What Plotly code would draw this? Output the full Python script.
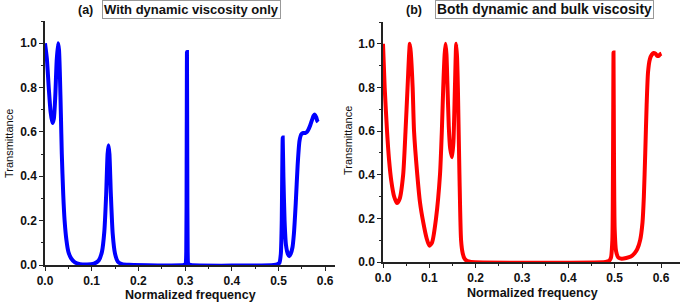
import plotly.graph_objects as go

# ---- data ----
blue_x = [0.000, 0.004, 0.008, 0.012, 0.016, 0.019, 0.022, 0.025, 0.028, 0.030,
          0.032, 0.034, 0.036, 0.039, 0.042, 0.046, 0.050, 0.056, 0.064, 0.075,
          0.090, 0.105, 0.115, 0.122, 0.127, 0.131, 0.134, 0.136, 0.138, 0.141,
          0.145, 0.150, 0.156, 0.165, 0.180, 0.298, 0.301, 0.3025, 0.3033, 0.304,
          0.3047, 0.3055, 0.307, 0.312, 0.490, 0.497, 0.502, 0.505, 0.507, 0.508,
          0.509, 0.5105, 0.513, 0.516, 0.520, 0.523, 0.526, 0.530, 0.533, 0.537,
          0.541, 0.545, 0.549, 0.553, 0.557, 0.561, 0.564, 0.568, 0.572, 0.575,
          0.578, 0.581, 0.583, 0.585]
blue_y = [1.00, 0.93, 0.80, 0.69, 0.64, 0.66, 0.76, 0.92, 1.00, 0.97,
          0.85, 0.68, 0.50, 0.32, 0.20, 0.11, 0.06, 0.03, 0.012, 0.004,
          0.002, 0.006, 0.02, 0.06, 0.15, 0.32, 0.50, 0.54, 0.50, 0.32,
          0.14, 0.05, 0.015, 0.004, 0.001, 0.000, 0.005, 0.06, 0.45, 0.96,
          0.45, 0.06, 0.005, 0.000, 0.000, 0.003, 0.01, 0.05, 0.20, 0.42,
          0.575, 0.40, 0.20, 0.09, 0.05, 0.04, 0.05, 0.08, 0.14, 0.28,
          0.45, 0.56, 0.59, 0.595, 0.595, 0.60, 0.61, 0.63, 0.655, 0.672,
          0.678, 0.665, 0.65, 0.645]

red_x = [0.000, 0.0036, 0.0087, 0.013, 0.018, 0.024, 0.030, 0.036, 0.0435, 0.0486,
         0.053, 0.056, 0.058, 0.060, 0.064, 0.067, 0.074, 0.080, 0.087, 0.094,
         0.100, 0.106, 0.1145, 0.123, 0.127, 0.130, 0.133, 0.135, 0.137, 0.139,
         0.142, 0.145, 0.149, 0.152, 0.155, 0.158, 0.160, 0.1616, 0.165, 0.1685,
         0.172, 0.176, 0.182, 0.190, 0.480, 0.488, 0.492, 0.495, 0.4965, 0.4975,
         0.4985, 0.500, 0.503, 0.508, 0.515, 0.525, 0.535, 0.543, 0.549, 0.555,
         0.560, 0.563, 0.566, 0.569, 0.572, 0.576, 0.580, 0.584, 0.588, 0.592,
         0.595, 0.598, 0.601]
red_y = [1.00, 0.80, 0.60, 0.47, 0.37, 0.30, 0.27, 0.29, 0.40, 0.60,
         0.80, 0.94, 1.00, 0.96, 0.80, 0.60, 0.40, 0.27, 0.18, 0.11,
         0.075, 0.09, 0.20, 0.40, 0.60, 0.80, 0.95, 1.00, 0.95, 0.82,
         0.62, 0.52, 0.48, 0.55, 0.78, 1.00, 0.93, 0.80, 0.40, 0.10,
         0.04, 0.015, 0.004, 0.000, 0.000, 0.005, 0.02, 0.10, 0.50, 0.96,
         0.50, 0.15, 0.05, 0.02, 0.015, 0.018, 0.025, 0.04, 0.06, 0.10,
         0.18, 0.30, 0.50, 0.72, 0.87, 0.93, 0.95, 0.958, 0.955, 0.945,
         0.945, 0.952, 0.955]

x_tick_vals = [0.0, 0.1, 0.2, 0.3, 0.4, 0.5, 0.6]
x_tick_text = ["0.0", "0.1", "0.2", "0.3", "0.4", "0.5", "0.6"]
y_tick_vals = [0.0, 0.2, 0.4, 0.6, 0.8, 1.0]
y_tick_text = ["0.0", "0.2", "0.4", "0.6", "0.8", "1.0"]

W, H = 685, 303
FONT = "Liberation Sans, Arial, sans-serif"

fig = go.Figure()
fig.add_trace(go.Scatter(x=blue_x, y=blue_y, mode="lines",
                         line=dict(color="#0000ff", width=4, shape="spline", smoothing=0.6),
                         xaxis="x", yaxis="y", showlegend=False))
fig.add_trace(go.Scatter(x=red_x, y=red_y, mode="lines",
                         line=dict(color="#ff0000", width=4, shape="spline", smoothing=0.6),
                         xaxis="x2", yaxis="y2", showlegend=False))

def xax(domain, rng, anchor):
    return dict(domain=domain, range=rng, anchor=anchor, showgrid=False, zeroline=False,
                automargin=False,
                showline=True, linecolor="#222", linewidth=1.5,
                ticks="outside", ticklen=4, tickwidth=1.2, tickcolor="#222",
                ticklabelstandoff=0,
                tickvals=x_tick_vals, ticktext=x_tick_text,
                tickfont=dict(family=FONT, size=12, color="#111", weight="bold"),
                minor=dict(ticks="outside", ticklen=2, tickwidth=1, tickcolor="#222", dtick=0.05, tick0=0),
                fixedrange=True)

def yax(domain, anchor):
    return dict(domain=domain, range=[0, 1.1], anchor=anchor, showgrid=False, zeroline=False,
                automargin=False,
                showline=True, linecolor="#222", linewidth=1.5,
                ticks="outside", ticklen=4, tickwidth=1.2, tickcolor="#222",
                tickvals=y_tick_vals, ticktext=y_tick_text,
                tickfont=dict(family=FONT, size=12, color="#111", weight="bold"),
                minor=dict(ticks="outside", ticklen=2, tickwidth=1, tickcolor="#222", dtick=0.1, tick0=0),
                fixedrange=True)

fig.update_layout(
    template="none",
    width=W, height=H, margin=dict(l=0, r=0, t=0, b=0, autoexpand=False),
    paper_bgcolor="white", plot_bgcolor="white",
    xaxis=xax([45 / W, 335 / W], [0, 0.621], "y"),
    yaxis=yax([(H - 265) / H, (H - 21) / H], "x"),
    xaxis2=xax([383 / W, 680 / W], [0, 0.641], "y2"),
    yaxis2=yax([(H - 262) / H, (H - 22) / H], "x2"),
)

def ann(text, x, y, size=12, bold=True, angle=0, box=False):
    d = dict(text=text, x=x / W, y=1 - y / H, xref="paper", yref="paper",
             showarrow=False, xanchor="center", yanchor="middle", textangle=angle,
             font=dict(family=FONT, size=size, color="#111", weight="bold" if bold else "normal"))
    if box:
        d.update(bordercolor="#999", borderwidth=1, borderpad=1, bgcolor="white")
    return d

fig.update_layout(annotations=[
    ann("(a)", 85.5, 10, size=12.5),
    ann("With dynamic viscosity only", 191, 10, size=13, box=True),
    ann("(b)", 413.5, 10, size=12.5),
    ann("Both dynamic and bulk viscosity", 544.5, 10, size=13.8, box=True),
    ann("Normalized frequency", 190, 295, size=12.5),
    ann("Normalized frequency", 532, 293, size=12.5),
    ann("Transmittance", 9, 144, size=11, bold=False, angle=-90),
    ann("Transmittance", 348, 140, size=11, bold=False, angle=-90),
])

fig.write_html("out.html", config={"displayModeBar": False},
               post_script="document.body.style.margin='0px';document.body.style.overflow='hidden';")
